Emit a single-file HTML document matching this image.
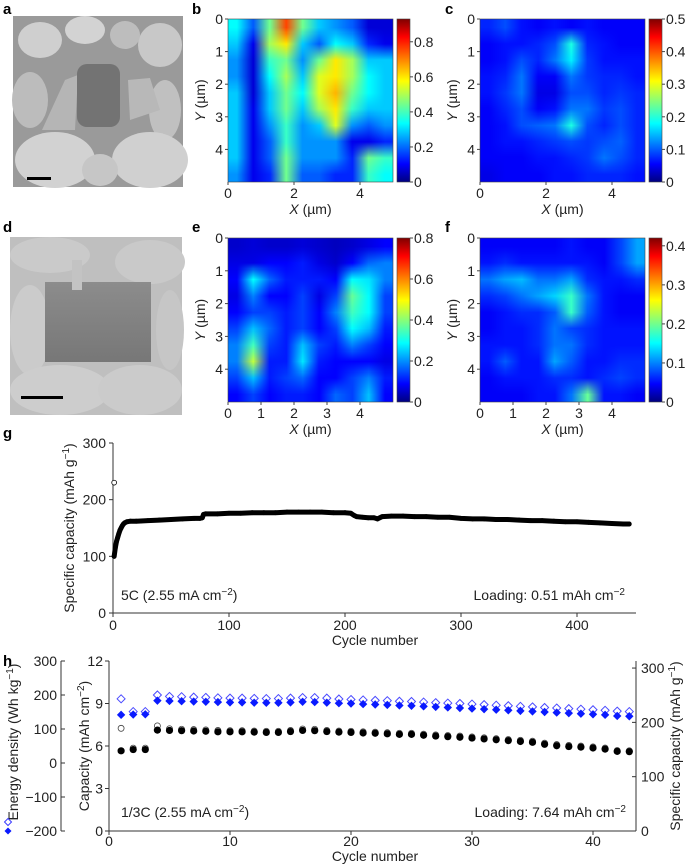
<!DOCTYPE html>
<html><head><meta charset="utf-8">
<style>
html,body{margin:0;padding:0;background:#fff;}
body{width:685px;height:865px;position:relative;overflow:hidden;font-family:"Liberation Sans Narrow","Liberation Sans",sans-serif;}
svg{position:absolute;left:0;top:0;}
canvas.hm{position:absolute;width:165px;height:163px;}
text{font-family:"Liberation Sans Narrow","Liberation Sans",sans-serif;font-size:14px;fill:#222;}
.lbl{font-family:"Liberation Sans",sans-serif;font-weight:bold;font-size:15px;fill:#000;}
</style></head>
<body>
<canvas class="hm" id="hm-b" width="10" height="10" style="left:228px;top:19px"></canvas>
<canvas class="hm" id="hm-c" width="10" height="10" style="left:480px;top:19px"></canvas>
<canvas class="hm" id="hm-e" width="10" height="10" style="left:228px;top:238px;height:164px"></canvas>
<canvas class="hm" id="hm-f" width="10" height="10" style="left:480px;top:238px;height:164px"></canvas>
<svg id="fig" width="685" height="865" xmlns="http://www.w3.org/2000/svg">
<defs>
<linearGradient id="jet" x1="0" y1="1" x2="0" y2="0">
<stop offset="0" stop-color="#00007f"/><stop offset="0.11" stop-color="#0000ff"/><stop offset="0.36" stop-color="#00ffff"/><stop offset="0.62" stop-color="#ffff00"/><stop offset="0.89" stop-color="#ff0000"/><stop offset="1" stop-color="#7f0000"/>
</linearGradient>
<linearGradient id="trench" x1="0" y1="0" x2="0" y2="1">
<stop offset="0" stop-color="#8c8c8c"/><stop offset="1" stop-color="#777"/>
</linearGradient>
</defs>
<!-- panel a SEM -->
<g>
<rect x="13" y="16" width="170" height="171" fill="#9a9a9a"/>
<ellipse cx="40" cy="40" rx="22" ry="18" fill="#cfcfcf"/>
<ellipse cx="85" cy="30" rx="20" ry="14" fill="#d3d3d3"/>
<ellipse cx="160" cy="45" rx="22" ry="22" fill="#c8c8c8"/>
<ellipse cx="125" cy="35" rx="15" ry="14" fill="#bdbdbd"/>
<ellipse cx="30" cy="100" rx="18" ry="28" fill="#bcbcbc"/>
<ellipse cx="165" cy="110" rx="16" ry="30" fill="#c0c0c0"/>
<ellipse cx="55" cy="160" rx="40" ry="28" fill="#d2d2d2"/>
<ellipse cx="150" cy="160" rx="38" ry="28" fill="#d0d0d0"/>
<ellipse cx="100" cy="170" rx="18" ry="16" fill="#c6c6c6"/>
<polygon points="42,130 65,80 78,75 75,130" fill="#b5b5b5"/>
<polygon points="128,80 150,78 160,110 130,120" fill="#b8b8b8"/>
<rect x="77" y="64" width="43" height="63" rx="10" fill="#737373"/>
<rect x="27" y="177" width="24" height="3" fill="#000"/>
</g>
<text class="lbl" x="3" y="14">a</text>
<!-- panel d SEM -->
<g>
<rect x="10" y="237" width="172" height="178" fill="#bfbfbf"/>
<ellipse cx="50" cy="255" rx="40" ry="18" fill="#cacaca"/>
<ellipse cx="150" cy="262" rx="35" ry="22" fill="#c9c9c9"/>
<ellipse cx="30" cy="330" rx="20" ry="45" fill="#cbcbcb"/>
<ellipse cx="170" cy="330" rx="14" ry="40" fill="#c6c6c6"/>
<ellipse cx="60" cy="390" rx="50" ry="25" fill="#cdcdcd"/>
<ellipse cx="140" cy="390" rx="42" ry="25" fill="#cbcbcb"/>
<rect x="45" y="282" width="106" height="80" fill="url(#trench)"/>
<rect x="72" y="260" width="10" height="30" fill="#c3c3c3"/>
<rect x="21" y="396" width="42" height="3" fill="#000"/>
</g>
<text class="lbl" x="3" y="232">d</text>
<text class="lbl" x="192" y="14">b</text>
<text class="lbl" x="445" y="14">c</text>
<text class="lbl" x="192" y="232">e</text>
<text class="lbl" x="445" y="232">f</text>
<text class="lbl" x="3" y="438">g</text>
<text class="lbl" x="3" y="666">h</text>
<g id="maps"></g>
<g id="gplot"></g>
<g id="hplot"></g>
</svg>
<script>
// ---------- heatmap data (rows top->bottom, cols left->right) ----------
const mapB=[[0.35,0.2,0.45,0.75,0.45,0.3,0.25,0.2,0.08,0.08],[0.3,0.1,0.5,0.6,0.3,0.2,0.35,0.3,0.15,0.1],[0.25,0.08,0.4,0.45,0.25,0.45,0.6,0.5,0.3,0.3],[0.25,0.08,0.35,0.5,0.3,0.55,0.6,0.5,0.35,0.3],[0.3,0.08,0.3,0.45,0.35,0.55,0.65,0.45,0.35,0.3],[0.3,0.1,0.3,0.45,0.3,0.5,0.6,0.4,0.3,0.3],[0.3,0.1,0.25,0.4,0.25,0.3,0.55,0.25,0.2,0.25],[0.3,0.1,0.2,0.4,0.25,0.25,0.25,0.1,0.1,0.15],[0.3,0.1,0.2,0.45,0.25,0.25,0.25,0.15,0.45,0.4],[0.25,0.1,0.15,0.45,0.2,0.2,0.15,0.15,0.4,0.35]];
const mapC=[[.08,.1,.07,.06,.07,.06,.07,.06,.06,.06],[.06,.07,.07,.08,.1,.2,.08,.07,.06,.06],[.06,.07,.1,.08,.12,.18,.09,.07,.07,.07],[.07,.08,.12,.06,.06,.12,.09,.08,.08,.07],[.07,.09,.12,.05,.05,.1,.1,.08,.09,.08],[.06,.08,.1,.06,.07,.12,.12,.09,.1,.08],[.06,.07,.1,.11,.12,.2,.1,.08,.1,.08],[.06,.07,.07,.08,.09,.1,.09,.1,.11,.08],[.06,.06,.06,.07,.07,.08,.09,.12,.1,.08],[.05,.06,.06,.06,.07,.07,.08,.08,.08,.07]];
const mapE=[[.06,.07,.06,.06,.07,.06,.05,.06,.08,.1],[.08,.08,.1,.1,.12,.08,.06,.1,.18,.2],[.1,.3,.18,.12,.12,.12,.1,.3,.28,.2],[.08,.2,.1,.1,.15,.08,.15,.38,.3,.15],[.1,.15,.15,.12,.15,.1,.2,.35,.3,.15],[.15,.25,.18,.12,.15,.1,.15,.3,.25,.12],[.2,.35,.15,.12,.25,.15,.12,.2,.15,.1],[.2,.45,.12,.12,.28,.12,.1,.1,.1,.08],[.15,.25,.12,.15,.18,.1,.1,.15,.2,.12],[.1,.15,.1,.12,.12,.1,.18,.15,.25,.1]];
const mapF=[[.05,.05,.05,.05,.05,.06,.05,.05,.08,.12],[.06,.07,.06,.06,.06,.06,.06,.05,.08,.12],[.1,.12,.13,.1,.1,.12,.07,.06,.06,.07],[.07,.08,.1,.12,.14,.18,.1,.06,.05,.05],[.05,.06,.07,.07,.09,.18,.09,.06,.05,.05],[.05,.06,.06,.07,.1,.08,.07,.06,.06,.06],[.06,.06,.06,.07,.1,.1,.07,.06,.06,.06],[.06,.09,.06,.06,.12,.09,.06,.06,.07,.07],[.05,.06,.06,.06,.07,.07,.06,.07,.08,.07],[.05,.05,.05,.06,.06,.1,.2,.06,.06,.05]];
const maxB=0.93, maxC=0.5, maxE=0.8, maxF=0.42;
const ticksB=[0,0.2,0.4,0.6,0.8], ticksC=[0,0.1,0.2,0.3,0.4,0.5], ticksE=[0,0.2,0.4,0.6,0.8], ticksF=[0,0.1,0.2,0.3,0.4];
const xTicksTop=[0,2,4], xTicksMid=[0,1,2,3,4], yTicksMap=[0,1,2,3,4];

// ---------- panel g data ----------
const gCycles=[1,2,3,4,5,6,7,8,9,10,12,15,20,30,40,50,60,70,75,77,78,80,90,100,110,120,130,140,150,160,170,180,190,200,205,208,210,215,220,225,228,232,240,250,260,270,280,290,300,310,320,330,340,350,360,370,380,390,400,410,420,430,440,445];
const gCapacity=[100,115,126,133,140,146,150,154,157,159,161,162,162,163,164,165,166,167,167,168,174,175,175,176,176,177,177,177,178,178,178,178,177,177,176,172,170,169,168,168,166,170,171,171,170,170,169,169,167,166,166,165,165,164,163,163,162,161,161,160,159,158,157,157];
const gFirstOpen=[1,230];
const gXTicks=[0,100,200,300,400], gYTicks=[0,100,200,300];

// ---------- panel h data ----------
const hBlackFilled=[5.66,5.75,5.75,7.12,7.1,7.08,7.06,7.04,7.0,7.0,7.0,6.98,6.96,6.96,7.02,7.1,7.08,7.02,6.98,6.96,6.92,6.9,6.86,6.82,6.82,6.76,6.7,6.66,6.62,6.56,6.5,6.44,6.38,6.32,6.26,6.12,6.02,5.96,5.92,5.86,5.78,5.62,5.6];
const hBlackOpen=[7.25,5.85,5.85,7.42,7.22,7.18,7.16,7.14,7.1,7.08,7.08,7.06,7.04,7.04,7.1,7.2,7.18,7.1,7.06,7.04,7.0,6.98,6.94,6.9,6.9,6.84,6.78,6.74,6.7,6.64,6.58,6.52,6.46,6.4,6.34,6.2,6.1,6.04,6.0,5.94,5.86,5.68,5.66];
const hBlueOpen=[9.33,8.43,8.43,9.6,9.5,9.48,9.45,9.43,9.4,9.38,9.38,9.36,9.35,9.35,9.38,9.42,9.42,9.38,9.32,9.28,9.25,9.22,9.2,9.16,9.14,9.1,9.06,9.03,9.0,8.96,8.92,8.88,8.84,8.8,8.76,8.72,8.68,8.64,8.6,8.56,8.52,8.46,8.43];
const hBlueFilled=[8.2,8.22,8.24,9.2,9.18,9.16,9.14,9.12,9.1,9.08,9.08,9.06,9.05,9.05,9.08,9.12,9.1,9.06,9.02,9.0,8.96,8.93,8.9,8.86,8.84,8.8,8.76,8.72,8.68,8.64,8.6,8.56,8.52,8.48,8.44,8.4,8.36,8.32,8.28,8.24,8.2,8.12,8.1];
const hXTicks=[0,10,20,30,40], hCapTicks=[0,3,6,9,12], hEnergyTicks=[-200,-100,0,100,200,300], hSpecTicks=[0,100,200,300];

const NS='http://www.w3.org/2000/svg';
function mk(parent,tag,attrs,txt){const e=document.createElementNS(NS,tag);for(const k in attrs)e.setAttribute(k,attrs[k]);if(txt!==undefined)e.textContent=txt;parent.appendChild(e);return e;}
function clamp(v){return Math.max(0,Math.min(1,v));}
function jet(v){return [clamp(1.5-Math.abs(4*v-3)),clamp(1.5-Math.abs(4*v-2)),clamp(1.5-Math.abs(4*v-1))].map(c=>Math.round(c*255));}
function paint(id,grid,mx){const cv=document.getElementById(id);const ctx=cv.getContext('2d');const img=ctx.createImageData(10,10);
 for(let r=0;r<10;r++)for(let c=0;c<10;c++){const [R,G,B]=jet(grid[r][c]/mx);const i=(r*10+c)*4;img.data[i]=R;img.data[i+1]=G;img.data[i+2]=B;img.data[i+3]=255;}
 ctx.putImageData(img,0,0);}
paint('hm-b',mapB,maxB);paint('hm-c',mapC,maxC);paint('hm-e',mapE,maxE);paint('hm-f',mapF,maxF);

const maps=document.getElementById('maps');
function mapAxes(x0,y0,h,cbTicks,cbMax,xt,name){
 const w=165, um=w/5, umY=h/5;
 const g=mk(maps,'g',{});
 
 
 mk(g,'rect',{x:x0,y:y0,width:w,height:h,fill:'none',stroke:'#444','stroke-width':0.6});
 const cb=mk(g,'rect',{x:x0+169,y:y0,width:13,height:h,fill:'url(#jet)',stroke:'#444','stroke-width':0.6});
 
 
 cbTicks.forEach(t=>{const y=y0+h-t/cbMax*h;mk(g,'line',{x1:x0+182,x2:x0+185,y1:y,y2:y,stroke:'#444'});
   mk(g,'text',{x:x0+186,y:y+5},String(t));});
 yTicksMap.forEach(t=>{const y=y0+t*umY;mk(g,'line',{x1:x0-3,x2:x0,y1:y,y2:y,stroke:'#444'});
   mk(g,'text',{x:x0-5,y:y+5,'text-anchor':'end'},String(t));});
 xt.forEach(t=>{const x=x0+t*um;mk(g,'line',{x1:x,x2:x,y1:y0+h,y2:y0+h+3,stroke:'#444'});
   mk(g,'text',{x:x,y:y0+h+16,'text-anchor':'middle'},String(t));});
 const yl=mk(g,'text',{x:0,y:0,transform:`translate(${x0-23},${y0+h/2}) rotate(-90)`,'text-anchor':'middle'});
 yl.innerHTML='<tspan font-style="italic">Y</tspan> (µm)';
 const xl=mk(g,'text',{x:x0+w/2,y:y0+h+32,'text-anchor':'middle'});
 xl.innerHTML='<tspan font-style="italic">X</tspan> (µm)';
}
mapAxes(228,19,163,ticksB,maxB,xTicksTop,'map-b');
mapAxes(480,19,163,ticksC,maxC,xTicksTop,'map-c');
mapAxes(228,238,164,ticksE,maxE,xTicksMid,'map-e');
mapAxes(480,238,164,ticksF,maxF,xTicksMid,'map-f');

// ---------- panel g ----------
const gp=document.getElementById('gplot');
const gx=c=>113+1.16*c, gy=v=>613-v*(170/300);
mk(gp,'line',{x1:113,x2:113,y1:443,y2:613,stroke:'#333'});
mk(gp,'line',{x1:113,x2:636,y1:613,y2:613,stroke:'#333'});
gYTicks.forEach(t=>{mk(gp,'line',{x1:109,x2:113,y1:gy(t),y2:gy(t),stroke:'#333'});mk(gp,'text',{x:106,y:gy(t)+5,'text-anchor':'end'},String(t));});
gXTicks.forEach(t=>{mk(gp,'line',{x1:gx(t),x2:gx(t),y1:613,y2:617,stroke:'#333'});mk(gp,'text',{x:gx(t),y:630,'text-anchor':'middle'},String(t));});
mk(gp,'text',{x:375,y:645,'text-anchor':'middle'},'Cycle number');
const gyl=mk(gp,'text',{transform:'translate(74,528) rotate(-90)','text-anchor':'middle'});
gyl.innerHTML='Specific capacity (mAh g<tspan dy="-5" font-size="10">−1</tspan><tspan dy="5">)</tspan>';
const gl=mk(gp,'text',{x:121,y:600});gl.innerHTML='5C (2.55 mA cm<tspan dy="-5" font-size="10">−2</tspan><tspan dy="5">)</tspan>';
const gr=mk(gp,'text',{x:625,y:600,'text-anchor':'end'});gr.innerHTML='Loading: 0.51 mAh cm<tspan dy="-5" font-size="10">−2</tspan>';
const gline=mk(gp,'polyline',{points:gCycles.map((c,i)=>gx(c)+','+gy(gCapacity[i])).join(' '),fill:'none',stroke:'#000','stroke-width':5,'stroke-linejoin':'round','stroke-linecap':'round'});


gCycles.forEach((c,i)=>{const p=mk(gp,'circle',{cx:gx(c),cy:gy(gCapacity[i]),r:2.4,fill:'#000'});
 
 });
const go=mk(gp,'circle',{cx:gx(gFirstOpen[0]),cy:gy(gFirstOpen[1]),r:2.4,fill:'#fff',stroke:'#000','stroke-width':0.8});



// ---------- panel h ----------
const hp=document.getElementById('hplot');
const hx=c=>109+12.1*c, hy=v=>831-v*(170/12), ey=v=>831-(v+200)*(170/500), sy=v=>831-v*(170/313);
mk(hp,'line',{x1:109,x2:109,y1:661,y2:831,stroke:'#333'});
mk(hp,'line',{x1:109,x2:636,y1:831,y2:831,stroke:'#333'});
mk(hp,'line',{x1:636,x2:636,y1:661,y2:831,stroke:'#333'});
mk(hp,'line',{x1:61,x2:61,y1:661,y2:831,stroke:'#333'});
hCapTicks.forEach(t=>{mk(hp,'line',{x1:105,x2:109,y1:hy(t),y2:hy(t),stroke:'#333'});mk(hp,'text',{x:103,y:hy(t)+5,'text-anchor':'end'},String(t));});
hEnergyTicks.forEach(t=>{mk(hp,'line',{x1:61,x2:65,y1:ey(t),y2:ey(t),stroke:'#333'});mk(hp,'text',{x:57,y:ey(t)+5,'text-anchor':'end'},String(t).replace('-','−'));});
hSpecTicks.forEach(t=>{mk(hp,'line',{x1:632,x2:636,y1:sy(t),y2:sy(t),stroke:'#333'});mk(hp,'text',{x:641,y:sy(t)+5},String(t));});
hXTicks.forEach(t=>{mk(hp,'line',{x1:hx(t),x2:hx(t),y1:831,y2:835,stroke:'#333'});mk(hp,'text',{x:hx(t),y:846,'text-anchor':'middle'},String(t));});
mk(hp,'text',{x:375,y:861,'text-anchor':'middle'},'Cycle number');
const ct=mk(hp,'text',{transform:'translate(89,746) rotate(-90)','text-anchor':'middle'});ct.innerHTML='Capacity (mAh cm<tspan dy="-5" font-size="10">−2</tspan><tspan dy="5">)</tspan>';
const et=mk(hp,'text',{transform:'translate(18,742) rotate(-90)','text-anchor':'middle'});et.innerHTML='Energy density (Wh kg<tspan dy="-5" font-size="10">−1</tspan><tspan dy="5">)</tspan>';
const st=mk(hp,'text',{transform:'translate(680,746) rotate(-90)','text-anchor':'middle'});st.innerHTML='Specific capacity (mAh g<tspan dy="-5" font-size="10">−1</tspan><tspan dy="5">)</tspan>';
const hl=mk(hp,'text',{x:121,y:817});hl.innerHTML='1/3C (2.55 mA cm<tspan dy="-5" font-size="10">−2</tspan><tspan dy="5">)</tspan>';
const hr=mk(hp,'text',{x:626,y:817,'text-anchor':'end'});hr.innerHTML='Loading: 7.64 mAh cm<tspan dy="-5" font-size="10">−2</tspan>';
function diamond(x,y,s){return `${x},${y-s} ${x+s},${y} ${x},${y+s} ${x-s},${y}`;}
// legend
const lg1=mk(hp,'polygon',{points:diamond(8,822,3.5),fill:'#fff',stroke:'#3a3aff','stroke-width':1});


const lg2=mk(hp,'polygon',{points:diamond(8,831,3.5),fill:'#0a1aff'});


hBlueOpen.forEach((v,i)=>{const p=mk(hp,'polygon',{points:diamond(hx(i+1),hy(v),4),fill:'#fff',stroke:'#4a4aff','stroke-width':1});
 
 });
hBlueFilled.forEach((v,i)=>{const p=mk(hp,'polygon',{points:diamond(hx(i+1),hy(v),4.2),fill:'#0a1aff'});
 
 });
hBlackOpen.forEach((v,i)=>{const p=mk(hp,'circle',{cx:hx(i+1),cy:hy(v),r:3,fill:'#fff',stroke:'#444','stroke-width':0.8});
 
 });
hBlackFilled.forEach((v,i)=>{const p=mk(hp,'circle',{cx:hx(i+1),cy:hy(v),r:3.6,fill:'#000'});
 
 });
</script>
</body></html>
